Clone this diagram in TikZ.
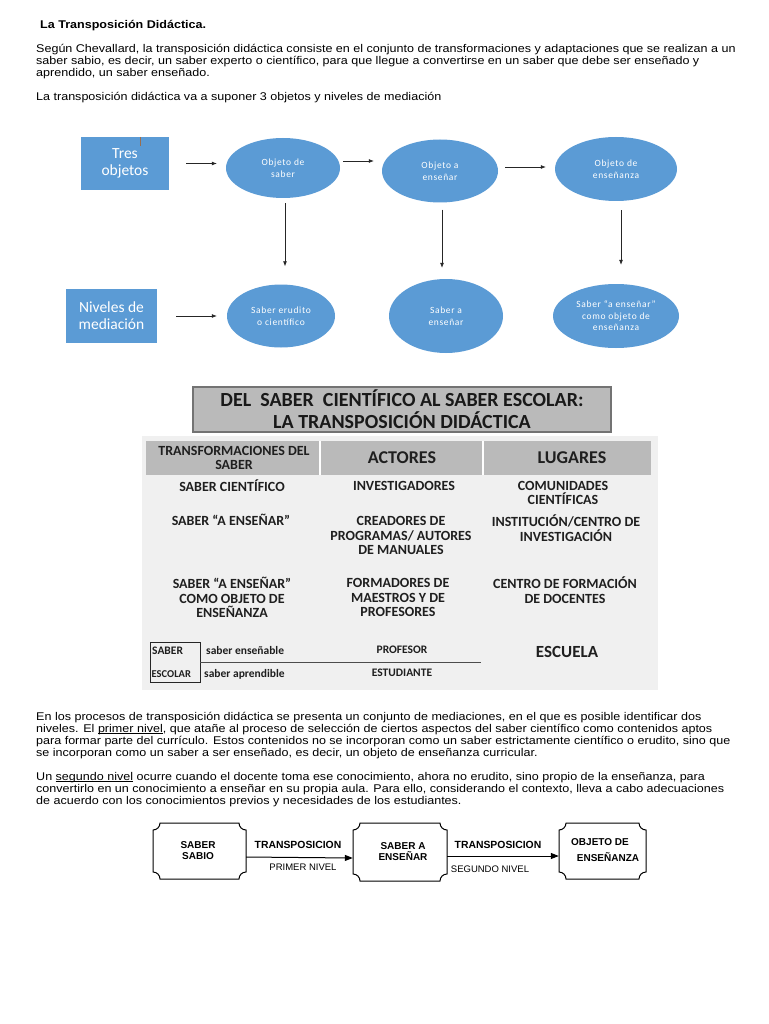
\documentclass[tikz,border=0pt]{standalone}
\usepackage{fontspec}
\setmainfont{Liberation Sans}
\newfontfamily\bodyf[FakeStretch=1.12]{Liberation Sans}
\newfontfamily\carlito{Carlito}
\newfontfamily\carlitols[LetterSpace=7]{Carlito}
\usetikzlibrary{arrows.meta,shapes.geometric}
\definecolor{obl}{HTML}{5B9BD5}
\definecolor{cursorc}{HTML}{9A6E4E}
\newcommand\plaquebox[4]{%
  \draw[line width=1pt] (#1+7,#2) -- (#3-7,#2) arc[start angle=180,end angle=90,radius=7]
    -- (#3,#4-7) arc[start angle=270,end angle=180,radius=7]
    -- (#1+7,#4) arc[start angle=0,end angle=-90,radius=7]
    -- (#1,#2+7) arc[start angle=90,end angle=0,radius=7] -- cycle;}
\newcommand\ulw[1]{\underline{\smash{#1}}}
\begin{document}
\begin{tikzpicture}[x=1pt,y=-1pt,
  txt/.style={anchor=base west, inner sep=0, font=\bodyf\fontsize{11.2}{12}\selectfont},
  ell/.style={ellipse, fill=obl, draw=none, text=white, align=center, inner sep=0, font=\carlitols\fontsize{9.5}{11.5}\selectfont},
  bluebox/.style={rectangle, fill=obl, text=white, align=center, inner sep=0, font=\carlito\fontsize{15.5}{17}\selectfont},
  arr/.style={-{Latex[length=5pt,width=4pt]}, line width=0.7pt, draw=black!85},
  tb/.style={font=\carlito\bfseries\fontsize{14}{14.5}\selectfont, inner sep=0, align=center, text=black!88},
  th/.style={font=\carlito\bfseries\fontsize{18}{18}\selectfont, inner sep=0, align=center, text=black!88},
  ts/.style={font=\carlito\bfseries\fontsize{11.5}{12}\selectfont, inner sep=0, text=black!88},
  plq/.style={inner sep=0, align=center, font=\bfseries\fontsize{10}{11}\selectfont},
  barr/.style={-{Triangle[length=8pt,width=6pt]}, line width=1pt},
  blab/.style={inner sep=0, font=\bfseries\fontsize{10.4}{11}\selectfont},
  slab/.style={inner sep=0, font=\fontsize{9.5}{11}\selectfont}
]
\useasboundingbox (0,0) rectangle (768,1024);
\fill[white] (0,0) rectangle (768,1024);

% ---------- top text ----------
\node[txt, font=\bodyf\bfseries\fontsize{11.2}{12}\selectfont] (title) at (40,29) {La Transposición Didáctica.};
\node[txt] (p1a) at (36,53) {Según Chevallard, la transposición didáctica consiste en el conjunto de transformaciones y adaptaciones que se realizan a un};
\node[txt] (p1b) at (36,65) {saber sabio, es decir, un saber experto o científico, para que llegue a convertirse en un saber que debe ser enseñado y};
\node[txt] (p1c) at (36,77) {aprendido, un saber enseñado.};
\node[txt] (p2a) at (36,101) {La transposición didáctica va a suponer 3 objetos y niveles de mediación};

% ---------- flow diagram ----------
\node[bluebox, minimum width=88pt, minimum height=53pt] (tres) at (125,163.5) {Tres\\objetos};
\draw[cursorc, line width=1pt] (140,137) -- (140,146);
\node[ell, minimum width=114pt, minimum height=60pt] (e1) at (283,168) {Objeto de\\saber};
\node[ell, minimum width=116pt, minimum height=63pt] (e2) at (440,171) {Objeto a\\enseñar};
\node[ell, minimum width=122pt, minimum height=64pt] (e3) at (616,169) {Objeto de\\enseñanza};
\node[bluebox, minimum width=91pt, minimum height=54pt] (niv) at (111.5,316) {Niveles de\\mediación};
\node[ell, minimum width=108pt, minimum height=63pt] (e4) at (281,316) {Saber erudito\\o científico};
\node[ell, minimum width=114pt, minimum height=74pt] (e5) at (446,316) {Saber a\\enseñar};
\node[ell, minimum width=126pt, minimum height=64pt] (e6) at (616,316) {Saber “a enseñar”\\como objeto de\\enseñanza};

\draw[arr, shorten <=17pt, shorten >=9pt] (tres.east) -- (tres.east -| e1.west);
\draw[arr, shorten <=3pt, shorten >=8pt] ([yshift=7pt]e1.east) -- ([yshift=7pt]e1.east -| e2.west);
\draw[arr, shorten <=7pt, shorten >=9pt] ([yshift=4pt]e2.east) -- ([yshift=4pt]e2.east -| e3.west);
\draw[arr, shorten <=5pt, shorten >=18pt] ([xshift=2pt]e1.south) -- ([xshift=2pt]e1.south |- e4.north);
\draw[arr, shorten <=7pt, shorten >=11pt] ([xshift=2pt]e2.south) -- ([xshift=2pt]e2.south |- e5.north);
\draw[arr, shorten <=9pt, shorten >=19pt] ([xshift=5pt]e3.south) -- ([xshift=5pt]e3.south |- e6.north);
\draw[arr, shorten <=19pt, shorten >=10pt] (niv.east) -- (niv.east -| e4.west);

% ---------- table ----------
\fill[black!6] (142,436) rectangle (658,690);
\node[draw=black!55, line width=1.5pt, fill=black!27, minimum width=418pt, minimum height=45pt, inner sep=0,
      align=center, font=\carlito\bfseries\fontsize{20}{22}\selectfont, text=black!90] (ttl) at (402,409.5)
      {DEL\ \ SABER\ \ CIENTÍFICO AL SABER ESCOLAR:\\LA TRANSPOSICIÓN DIDÁCTICA};
\node[fill=black!27, minimum width=505pt, minimum height=34pt, inner sep=0] (hdr) at (398.5,458) {};
\draw[white, line width=1.5pt] (hdr.north -| 320,0) -- (hdr.south -| 320,0);
\draw[white, line width=1.5pt] (hdr.north -| 483,0) -- (hdr.south -| 483,0);
\node[tb] (h1) at (234,458) {TRANSFORMACIONES DEL\\SABER};
\node[th] (h2) at (402,458) {ACTORES};
\node[th] (h3) at (572,458) {LUGARES};

\node[tb] (r1a) at (232,486) {SABER CIENTÍFICO};
\node[tb] (r1b) at (404,486) {INVESTIGADORES};
\node[tb] (r1c) at (563,493) {COMUNIDADES\\CIENTÍFICAS};
\node[tb] (r2a) at (231,520) {SABER “A ENSEÑAR”};
\node[tb] (r2b) at (401,535.5) {CREADORES DE\\PROGRAMAS/ AUTORES\\DE MANUALES};
\node[tb] (r2c) at (566,528) {INSTITUCIÓN/CENTRO DE\\INVESTIGACIÓN};
\node[tb] (r3a) at (232,597.5) {SABER “A ENSEÑAR”\\COMO OBJETO DE\\ENSEÑANZA};
\node[tb] (r3b) at (398,597.5) {FORMADORES DE\\MAESTROS Y DE\\PROFESORES};
\node[tb] (r3c) at (565,590) {CENTRO DE FORMACIÓN\\DE DOCENTES};

\draw[black!85, line width=1pt] (150,642) rectangle (200,682);
\draw[black!70, line width=0.8pt] (200,662) -- (481,662);
\node[ts, anchor=west] (sab) at (152,651) {SABER};
\node[ts, anchor=west, font=\carlito\bfseries\fontsize{10.5}{12}\selectfont] (esc) at (151.5,674) {ESCOLAR};
\node[ts, anchor=west] (se) at (206,651) {saber enseñable};
\node[ts, anchor=west] (sa) at (204,674) {saber aprendible};
\node[ts] (prof) at (402,650) {PROFESOR};
\node[ts] (est) at (402,673) {ESTUDIANTE};
\node[th, font=\carlito\bfseries\fontsize{17}{17}\selectfont] (escu) at (567,652) {ESCUELA};

% ---------- lower text ----------
\node[txt] (p3a) at (36,720) {En los procesos de transposición didáctica se presenta un conjunto de mediaciones, en el que es posible identificar dos};
\node[txt] (p3b) at (36,732) {niveles. El \ulw{primer nivel}, que atañe al proceso de selección de ciertos aspectos del saber científico como contenidos aptos};
\node[txt] (p3c) at (36,744) {para formar parte del currículo. Estos contenidos no se incorporan como un saber estrictamente científico o erudito, sino que};
\node[txt] (p3d) at (36,756) {se incorporan como un saber a ser enseñado, es decir, un objeto de enseñanza curricular.};
\node[txt] (p4a) at (36,780) {Un \ulw{segundo nivel} ocurre cuando el docente toma ese conocimiento, ahora no erudito, sino propio de la enseñanza, para};
\node[txt] (p4b) at (36,792) {convertirlo en un conocimiento a enseñar en su propia aula. Para ello, considerando el contexto, lleva a cabo adecuaciones};
\node[txt] (p4c) at (36,804) {de acuerdo con los conocimientos previos y necesidades de los estudiantes.};

% ---------- bottom diagram ----------
\plaquebox{153}{823}{246}{879}
\plaquebox{353}{823}{447}{881}
\plaquebox{559}{823}{646}{879}
\node[plq, minimum width=93pt, minimum height=56pt] (b1) at (199.5,851) {};
\node[plq, minimum width=94pt, minimum height=58pt] (b2) at (400,852) {};
\node[plq, minimum width=87pt, minimum height=56pt] (b3) at (602.5,851) {};
\node[plq] (b1t) at (198,850.5) {SABER\\SABIO};
\node[plq] (b2t) at (403,851.5) {SABER A\\ENSEÑAR};
\node[plq] (b3t1) at (600,842) {OBJETO DE};
\node[plq] (b3t2) at (608,857) {ENSEÑANZA};
\draw[barr] ([yshift=-6pt]b1.east) -- ([yshift=-6pt]b2.west);
\draw[barr] ([yshift=-4pt]b2.east) -- ([yshift=-4pt]b2.east -| b3.west);
\node[blab] (t1) at (298,845) {TRANSPOSICION};
\node[slab] (n1) at (303,867) {PRIMER NIVEL};
\node[blab] (t2) at (498,845) {TRANSPOSICION};
\node[slab] (n2) at (490,869) {SEGUNDO NIVEL};
\end{tikzpicture}
\end{document}
